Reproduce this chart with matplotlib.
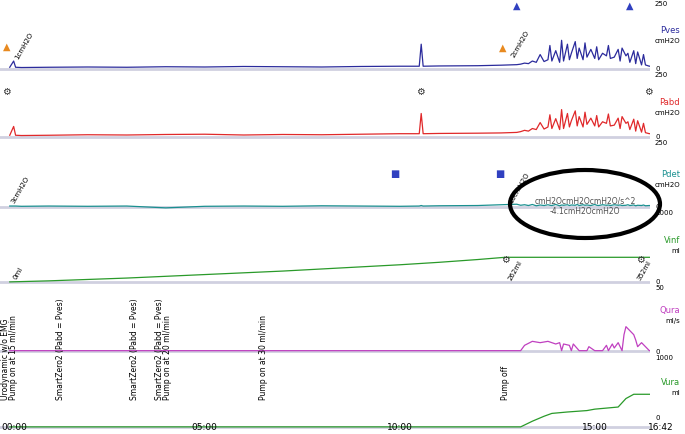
import numpy as np
import matplotlib.pyplot as plt
from matplotlib.patches import Ellipse

# time in minutes
t_base = [0.0, 0.1, 0.15, 0.3, 1, 2, 3, 4, 5, 6, 7, 8, 9, 10, 10.5, 10.55, 10.6, 11, 12, 12.6, 13.0]
pves_base = [6, 30, 6, 5, 6, 7, 6, 8, 7, 9, 8, 7, 9, 10, 10, 95, 10, 11, 12, 14, 16]
pabd_base = [6, 40, 6, 5, 6, 8, 7, 9, 10, 7, 9, 8, 10, 12, 12, 90, 12, 13, 14, 15, 17]
pdet_base = [3, 3, 3, 2, 3, 2, 3, -4, 2, 3, 2, 4, 3, 2, 3, 5, 3, 4, 5, 8, 10]

t_act = [13.1, 13.2, 13.3, 13.4, 13.5, 13.6, 13.7, 13.8, 13.85, 13.9, 14.0, 14.1, 14.15, 14.2,
         14.3, 14.35, 14.4, 14.5, 14.55, 14.6, 14.7, 14.75, 14.8, 14.9, 15.0, 15.05, 15.1,
         15.2, 15.3, 15.35, 15.4, 15.5, 15.6, 15.65, 15.7, 15.8, 15.85, 15.9, 16.0, 16.05,
         16.1, 16.2, 16.25, 16.3, 16.4, 16.5, 16.55, 16.6, 16.7]
pves_act = [18, 22, 20, 30, 25, 55, 28, 35, 90, 30, 70, 25, 110, 30, 95, 35, 60, 105, 40,
            80, 35, 100, 45, 75, 40, 85, 35, 60, 50, 90, 40, 45, 75, 30, 80, 50, 60, 25,
            70, 20, 65, 15, 55, 15, 10, 12, 50, 8, 8]
pabd_act = [20, 25, 22, 32, 28, 55, 30, 38, 85, 32, 70, 28, 105, 32, 90, 38, 62, 100, 42,
            78, 38, 95, 48, 72, 42, 82, 38, 58, 52, 88, 42, 45, 72, 32, 78, 52, 58, 28,
            68, 22, 62, 18, 52, 16, 12, 14, 48, 10, 10]
pdet_act = [6, 8, 5, 9, 4, 7, 5, 8, 6, 5, 9, 4, 7, 6, 8, 5, 7, 6, 9, 5, 8, 6, 7, 5, 9, 6,
            5, 8, 6, 7, 5, 8, 6, 7, 5, 6, 8, 5, 7, 4, 6, 5, 7, 4, 5, 3, 6, 4, 3]

t_vinf = [0, 1, 2, 3, 4, 5, 6, 7, 8, 9, 10, 11, 12, 12.7, 16.7]
vinf = [0, 15, 35, 55, 80, 105, 130, 155, 185, 215, 245, 280, 320, 352, 352]

t_qura = [0, 13.1, 13.2, 13.4, 13.6, 13.8, 14.0, 14.1, 14.15, 14.2, 14.35, 14.4, 14.45, 14.6,
          14.8, 14.85, 14.9, 15.0, 15.2, 15.3, 15.35, 15.45, 15.5, 15.6, 15.7, 15.75, 15.8,
          15.9, 16.0, 16.05, 16.1, 16.2, 16.4, 16.7]
qura = [0, 0, 4, 7, 6, 7, 5, 6, 0, 5, 4, 0, 5, 0, 0, 3, 2, 0, 0, 4, 0, 5, 2, 6, 0, 12,
        18, 15, 12, 8, 3, 6, 0, 0]

t_vura = [0, 13.1, 13.4, 13.7, 13.9, 14.3, 14.8, 15.0, 15.4, 15.6, 15.8, 16.0, 16.7]
vura = [0, 0, 80, 150, 190, 210, 230, 250, 270, 280, 400, 460, 460]

times = ["00:00", "05:00", "10:00", "15:00", "16:42"]
time_pos = [0, 5, 10, 15, 16.7]

fig = plt.figure(figsize=(6.85, 4.35), dpi=100)
W, H = 685, 435
x0, x1 = 0, 650
tmin = -0.25
tmax = tmin + (x1 - x0) / 39.0


def panel(top, bottom, ylim):
    ax = fig.add_axes([x0 / W, 1 - bottom / H, (x1 - x0) / W, (bottom - top) / H])
    ax.set_xlim(tmin, tmax)
    ax.set_ylim(*ylim)
    ax.axis("off")
    ax.axhline(0, color="#d0d0e0", lw=2, zorder=0)
    return ax


def side(name, unit, ypix, col, top_lab, bottom_lab, ytop, ybot):
    fig.text(680 / W, 1 - ypix / H, name, color=col, fontsize=6, ha="right")
    fig.text(680 / W, 1 - (ypix + 10) / H, unit, color="black", fontsize=5, ha="right")
    if top_lab:
        fig.text(655 / W, 1 - ytop / H, top_lab, fontsize=5, va="center")
    fig.text(655 / W, 1 - ybot / H, "0", fontsize=5, va="center")
    if bottom_lab:
        fig.text(655 / W, 1 - (ybot + 6) / H, bottom_lab, fontsize=5, va="center")


a1 = panel(5, 75, (-20, 250))
a1.plot(t_base + t_act, pves_base + pves_act, color="#2b2b9c", lw=0.9)
a2 = panel(73, 143, (-20, 250))
a2.plot(t_base + t_act, pabd_base + pabd_act, color="#e0282a", lw=0.9)
a3 = panel(143, 213, (-20, 250))
a3.plot(t_base + t_act, pdet_base + pdet_act, color="#1a9090", lw=0.9)
a4 = panel(213, 285, (-30, 1000))
a4.plot(t_vinf, vinf, color="#2a9a2a", lw=0.9)
a5 = panel(285, 357, (-4, 50))
a5.plot(t_qura, qura, color="#c040c0", lw=0.9)
a6 = panel(357, 430, (-30, 1000))
a6.plot(t_vura, vura, color="#2a9a2a", lw=0.9)

side("Pves", "cmH2O", 33, "#2b2b9c", "250", "250", 4, 69)
side("Pabd", "cmH2O", 105, "#e0282a", None, "250", 4, 137)
side("Pdet", "cmH2O", 177, "#1a9090", None, "1000", 4, 207)
side("Vinf", "ml", 243, "#2a9a2a", None, "50", 4, 282)
side("Qura", "ml/s", 313, "#c040c0", None, "1000", 4, 352)
side("Vura", "ml", 385, "#2a9a2a", None, None, 4, 418)

# time labels
for lab, tp in zip(times, time_pos):
    xp = x0 + (tp - tmin) * 39.0
    if tp == 0:
        fig.text(1 / W, 1 - 428 / H, lab, fontsize=6.5, ha="left", va="center")
    else:
        fig.text(xp / W, 1 - 428 / H, lab, fontsize=6.5, ha="center", va="center")

# event annotations
events = [(-0.12, "Urodynamic w/o EMG"), (0.1, "Pump on at 15 ml/min"),
          (1.3, "SmartZero2 (Pabd = Pves)"), (3.2, "SmartZero2 (Pabd = Pves)"),
          (3.85, "SmartZero2 (Pabd = Pves)"), (4.05, "Pump on at 20 ml/min"),
          (6.5, "Pump on at 30 ml/min"), (12.7, "Pump off")]
for tp, lab in events:
    xp = x0 + (tp - tmin) * 39.0
    fig.text(xp / W, 1 - 400 / H, lab, rotation=90, fontsize=5.5, ha="center", va="bottom")

# small value labels
for xp, yp, lab in [(14, 60, "1cmH2O"), (10, 205, "3cmH2O"), (12, 280, "0ml"),
                    (510, 58, "2cmH2O"), (508, 205, "16cmH2O"), (507, 282, "262ml"),
                    (636, 282, "352ml")]:
    fig.text(xp / W, 1 - yp / H, lab, rotation=60, fontsize=5, ha="left", va="bottom")
fig.text(585 / W, 1 - 204 / H, "cmH2OcmH2OcmH2O/s^2", fontsize=5.5, ha="center", color="#505050")
fig.text(585 / W, 1 - 214 / H, "-4.1cmH2OcmH2O", fontsize=5.5, ha="center", color="#505050")

# icons (simplified)
for xp, yp, c in [(7, 47, "#e88a20"), (517, 6, "#3040c0"), (630, 6, "#3040c0"),
                  (503, 48, "#e88a20"), (395, 174, "#3040c0"), (500, 174, "#3040c0")]:
    fig.text(xp / W, 1 - yp / H, "\u25B2" if yp < 60 else "\u25A0", color=c, fontsize=7,
             ha="center", va="center")
for xp, yp in [(6, 92), (420, 92), (648, 92), (505, 260), (640, 260)]:
    fig.text(xp / W, 1 - yp / H, "\u2699", color="#303030", fontsize=7, ha="center", va="center")

# black ellipse
ov = fig.add_axes([0, 0, 1, 1], facecolor="none")
ov.set_xlim(0, W)
ov.set_ylim(H, 0)
ov.axis("off")
ov.add_patch(Ellipse((585, 205), 150, 68, fill=False, lw=3, ec="black"))

fig.savefig("out.png", dpi=100)
